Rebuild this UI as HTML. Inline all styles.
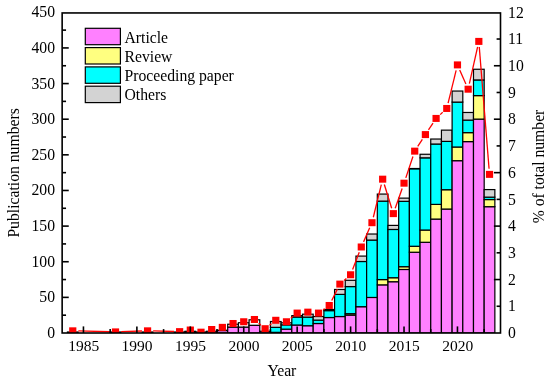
<!DOCTYPE html>
<html><head><meta charset="utf-8"><title>Publication numbers by year</title>
<style>
html,body{margin:0;padding:0;background:#fff;}
svg{display:block;}
text{font-family:"Liberation Serif","Times New Roman",serif;font-size:15.7px;fill:#000;}
.xl{font-size:15.5px;}
</style></head><body>
<svg width="550" height="379" viewBox="0 0 550 379">
<rect width="550" height="379" fill="#fff"/>
<defs><clipPath id="c"><rect x="62.15" y="12.95" width="438.35" height="320.05"/></clipPath></defs>

<g stroke="#000" stroke-width="1.2" clip-path="url(#c)">
<rect x="67.42" y="331.99" width="10.69" height="1.01" fill="#ff80ff"/>
<rect x="110.16" y="331.99" width="10.69" height="1.01" fill="#ff80ff"/>
<rect x="142.22" y="331.99" width="10.69" height="1.01" fill="#ff80ff"/>
<rect x="174.28" y="331.99" width="10.69" height="1.01" fill="#ff80ff"/>
<rect x="184.97" y="331.99" width="10.69" height="1.01" fill="#ff80ff"/>
<rect x="184.97" y="331.28" width="10.69" height="0.71" fill="#00ffff"/>
<rect x="195.65" y="331.99" width="10.69" height="1.01" fill="#ff80ff"/>
<rect x="206.34" y="331.28" width="10.69" height="1.72" fill="#ff80ff"/>
<rect x="217.02" y="330.56" width="10.69" height="2.44" fill="#ff80ff"/>
<rect x="217.02" y="330.28" width="10.69" height="0.28" fill="#d3d3d3"/>
<rect x="227.71" y="327.08" width="10.69" height="5.92" fill="#ff80ff"/>
<rect x="227.71" y="324.23" width="10.69" height="2.85" fill="#ffffff"/>
<rect x="238.40" y="327.08" width="10.69" height="5.92" fill="#ff80ff"/>
<rect x="238.40" y="322.73" width="10.69" height="4.34" fill="#ffffff"/>
<rect x="249.08" y="325.30" width="10.69" height="7.70" fill="#ff80ff"/>
<rect x="249.08" y="319.81" width="10.69" height="5.48" fill="#ffffff"/>
<rect x="259.77" y="331.28" width="10.69" height="1.72" fill="#ff80ff"/>
<rect x="270.45" y="332.34" width="10.69" height="0.66" fill="#ff80ff"/>
<rect x="270.45" y="327.36" width="10.69" height="4.98" fill="#00ffff"/>
<rect x="270.45" y="321.52" width="10.69" height="5.84" fill="#d3d3d3"/>
<rect x="281.14" y="329.14" width="10.69" height="3.86" fill="#ff80ff"/>
<rect x="281.14" y="324.87" width="10.69" height="4.27" fill="#00ffff"/>
<rect x="281.14" y="322.80" width="10.69" height="2.06" fill="#d3d3d3"/>
<rect x="291.82" y="325.01" width="10.69" height="7.99" fill="#ff80ff"/>
<rect x="291.82" y="317.04" width="10.69" height="7.97" fill="#00ffff"/>
<rect x="291.82" y="315.61" width="10.69" height="1.42" fill="#d3d3d3"/>
<rect x="302.51" y="325.72" width="10.69" height="7.28" fill="#ff80ff"/>
<rect x="302.51" y="317.11" width="10.69" height="8.62" fill="#00ffff"/>
<rect x="302.51" y="314.19" width="10.69" height="2.92" fill="#d3d3d3"/>
<rect x="313.20" y="323.52" width="10.69" height="9.48" fill="#ff80ff"/>
<rect x="313.20" y="320.10" width="10.69" height="3.42" fill="#00ffff"/>
<rect x="313.20" y="316.54" width="10.69" height="3.56" fill="#d3d3d3"/>
<rect x="323.88" y="317.53" width="10.69" height="15.47" fill="#ff80ff"/>
<rect x="323.88" y="310.63" width="10.69" height="6.91" fill="#00ffff"/>
<rect x="323.88" y="309.49" width="10.69" height="1.14" fill="#d3d3d3"/>
<rect x="334.57" y="316.54" width="10.69" height="16.46" fill="#ff80ff"/>
<rect x="334.57" y="294.39" width="10.69" height="22.14" fill="#00ffff"/>
<rect x="334.57" y="289.48" width="10.69" height="4.91" fill="#d3d3d3"/>
<rect x="345.25" y="315.11" width="10.69" height="17.89" fill="#ff80ff"/>
<rect x="345.25" y="313.69" width="10.69" height="1.42" fill="#ffff80"/>
<rect x="345.25" y="286.56" width="10.69" height="27.13" fill="#00ffff"/>
<rect x="345.25" y="280.30" width="10.69" height="6.27" fill="#d3d3d3"/>
<rect x="355.94" y="306.71" width="10.69" height="26.29" fill="#ff80ff"/>
<rect x="355.94" y="261.50" width="10.69" height="45.21" fill="#00ffff"/>
<rect x="355.94" y="256.09" width="10.69" height="5.41" fill="#d3d3d3"/>
<rect x="366.63" y="297.46" width="10.69" height="35.54" fill="#ff80ff"/>
<rect x="366.63" y="240.07" width="10.69" height="57.39" fill="#00ffff"/>
<rect x="366.63" y="234.02" width="10.69" height="6.05" fill="#d3d3d3"/>
<rect x="377.31" y="284.85" width="10.69" height="48.15" fill="#ff80ff"/>
<rect x="377.31" y="279.58" width="10.69" height="5.27" fill="#ffff80"/>
<rect x="377.31" y="201.12" width="10.69" height="78.46" fill="#00ffff"/>
<rect x="377.31" y="194.07" width="10.69" height="7.05" fill="#d3d3d3"/>
<rect x="388.00" y="281.72" width="10.69" height="51.28" fill="#ff80ff"/>
<rect x="388.00" y="277.73" width="10.69" height="3.99" fill="#ffff80"/>
<rect x="388.00" y="229.46" width="10.69" height="48.27" fill="#00ffff"/>
<rect x="388.00" y="225.40" width="10.69" height="4.06" fill="#d3d3d3"/>
<rect x="398.68" y="269.47" width="10.69" height="63.53" fill="#ff80ff"/>
<rect x="398.68" y="266.70" width="10.69" height="2.78" fill="#ffff80"/>
<rect x="398.68" y="201.34" width="10.69" height="65.36" fill="#00ffff"/>
<rect x="398.68" y="198.13" width="10.69" height="3.20" fill="#d3d3d3"/>
<rect x="409.37" y="252.24" width="10.69" height="80.76" fill="#ff80ff"/>
<rect x="409.37" y="246.26" width="10.69" height="5.98" fill="#ffff80"/>
<rect x="409.37" y="168.80" width="10.69" height="77.47" fill="#00ffff"/>
<rect x="409.37" y="168.51" width="10.69" height="0.28" fill="#d3d3d3"/>
<rect x="420.06" y="242.28" width="10.69" height="90.72" fill="#ff80ff"/>
<rect x="420.06" y="230.03" width="10.69" height="12.25" fill="#ffff80"/>
<rect x="420.06" y="157.83" width="10.69" height="72.20" fill="#00ffff"/>
<rect x="420.06" y="154.27" width="10.69" height="3.56" fill="#d3d3d3"/>
<rect x="430.74" y="219.06" width="10.69" height="113.94" fill="#ff80ff"/>
<rect x="430.74" y="204.40" width="10.69" height="14.67" fill="#ffff80"/>
<rect x="430.74" y="144.02" width="10.69" height="60.38" fill="#00ffff"/>
<rect x="430.74" y="139.04" width="10.69" height="4.98" fill="#d3d3d3"/>
<rect x="441.43" y="209.03" width="10.69" height="123.97" fill="#ff80ff"/>
<rect x="441.43" y="189.73" width="10.69" height="19.30" fill="#ffff80"/>
<rect x="441.43" y="141.39" width="10.69" height="48.34" fill="#00ffff"/>
<rect x="441.43" y="130.14" width="10.69" height="11.25" fill="#d3d3d3"/>
<rect x="452.11" y="160.68" width="10.69" height="172.32" fill="#ff80ff"/>
<rect x="452.11" y="147.01" width="10.69" height="13.67" fill="#ffff80"/>
<rect x="452.11" y="102.08" width="10.69" height="44.93" fill="#00ffff"/>
<rect x="452.11" y="91.05" width="10.69" height="11.04" fill="#d3d3d3"/>
<rect x="462.80" y="141.60" width="10.69" height="191.40" fill="#ff80ff"/>
<rect x="462.80" y="132.63" width="10.69" height="8.97" fill="#ffff80"/>
<rect x="462.80" y="120.10" width="10.69" height="12.53" fill="#00ffff"/>
<rect x="462.80" y="112.48" width="10.69" height="7.62" fill="#d3d3d3"/>
<rect x="473.49" y="119.10" width="10.69" height="213.90" fill="#ff80ff"/>
<rect x="473.49" y="95.60" width="10.69" height="23.50" fill="#ffff80"/>
<rect x="473.49" y="79.94" width="10.69" height="15.66" fill="#00ffff"/>
<rect x="473.49" y="69.26" width="10.69" height="10.68" fill="#d3d3d3"/>
<rect x="484.17" y="206.68" width="10.69" height="126.32" fill="#ff80ff"/>
<rect x="484.17" y="199.56" width="10.69" height="7.12" fill="#ffff80"/>
<rect x="484.17" y="197.14" width="10.69" height="2.42" fill="#00ffff"/>
<rect x="484.17" y="189.59" width="10.69" height="7.55" fill="#d3d3d3"/>
</g>
<g clip-path="url(#c)"><g stroke="#ff0000" stroke-width="1.3" fill="none">
<line x1="78.36" y1="330.97" x2="109.91" y2="331.76"/>
<line x1="121.10" y1="331.71" x2="141.97" y2="331.02"/>
<line x1="153.16" y1="330.97" x2="174.03" y2="331.49"/>
<line x1="258.67" y1="323.14" x2="260.87" y2="325.04"/>
<line x1="269.51" y1="325.23" x2="271.40" y2="323.75"/>
<line x1="290.83" y1="318.22" x2="292.82" y2="316.61"/>
<line x1="323.10" y1="309.83" x2="324.67" y2="308.71"/>
<line x1="331.73" y1="300.46" x2="337.41" y2="289.11"/>
<line x1="344.13" y1="280.42" x2="346.38" y2="278.45"/>
<line x1="352.61" y1="269.53" x2="359.27" y2="252.22"/>
<line x1="363.54" y1="241.87" x2="369.72" y2="227.82"/>
<line x1="373.31" y1="217.26" x2="381.32" y2="184.61"/>
<line x1="384.32" y1="184.52" x2="391.68" y2="208.27"/>
<line x1="395.20" y1="208.33" x2="402.17" y2="188.46"/>
<line x1="405.80" y1="177.87" x2="412.94" y2="156.45"/>
<line x1="417.75" y1="146.44" x2="422.36" y2="139.29"/>
<line x1="428.49" y1="129.92" x2="433.00" y2="123.10"/>
<line x1="440.18" y1="114.61" x2="442.68" y2="112.29"/>
<line x1="448.11" y1="103.03" x2="456.13" y2="70.34"/>
<line x1="459.71" y1="70.03" x2="465.89" y2="84.07"/>
<line x1="469.37" y1="83.73" x2="477.61" y2="46.87"/>
<line x1="479.28" y1="46.99" x2="489.07" y2="168.79"/>
</g>
<rect x="69.16" y="327.33" width="7.20" height="7.00" fill="#ff0000"/>
<rect x="111.91" y="328.40" width="7.20" height="7.00" fill="#ff0000"/>
<rect x="143.97" y="327.33" width="7.20" height="7.00" fill="#ff0000"/>
<rect x="176.02" y="328.13" width="7.20" height="7.00" fill="#ff0000"/>
<rect x="186.71" y="326.53" width="7.20" height="7.00" fill="#ff0000"/>
<rect x="197.40" y="328.67" width="7.20" height="7.00" fill="#ff0000"/>
<rect x="208.08" y="326.00" width="7.20" height="7.00" fill="#ff0000"/>
<rect x="218.77" y="323.86" width="7.20" height="7.00" fill="#ff0000"/>
<rect x="229.45" y="319.99" width="7.20" height="7.00" fill="#ff0000"/>
<rect x="240.14" y="318.25" width="7.20" height="7.00" fill="#ff0000"/>
<rect x="250.83" y="315.98" width="7.20" height="7.00" fill="#ff0000"/>
<rect x="261.51" y="325.19" width="7.20" height="7.00" fill="#ff0000"/>
<rect x="272.20" y="316.78" width="7.20" height="7.00" fill="#ff0000"/>
<rect x="282.88" y="318.25" width="7.20" height="7.00" fill="#ff0000"/>
<rect x="293.57" y="309.58" width="7.20" height="7.00" fill="#ff0000"/>
<rect x="304.26" y="308.64" width="7.20" height="7.00" fill="#ff0000"/>
<rect x="314.94" y="309.58" width="7.20" height="7.00" fill="#ff0000"/>
<rect x="325.63" y="301.97" width="7.20" height="7.00" fill="#ff0000"/>
<rect x="336.31" y="280.61" width="7.20" height="7.00" fill="#ff0000"/>
<rect x="347.00" y="271.26" width="7.20" height="7.00" fill="#ff0000"/>
<rect x="357.69" y="243.49" width="7.20" height="7.00" fill="#ff0000"/>
<rect x="368.37" y="219.20" width="7.20" height="7.00" fill="#ff0000"/>
<rect x="379.06" y="175.67" width="7.20" height="7.00" fill="#ff0000"/>
<rect x="389.74" y="210.12" width="7.20" height="7.00" fill="#ff0000"/>
<rect x="400.43" y="179.68" width="7.20" height="7.00" fill="#ff0000"/>
<rect x="411.12" y="147.64" width="7.20" height="7.00" fill="#ff0000"/>
<rect x="421.80" y="131.09" width="7.20" height="7.00" fill="#ff0000"/>
<rect x="432.49" y="114.93" width="7.20" height="7.00" fill="#ff0000"/>
<rect x="443.17" y="104.97" width="7.20" height="7.00" fill="#ff0000"/>
<rect x="453.86" y="61.40" width="7.20" height="7.00" fill="#ff0000"/>
<rect x="464.55" y="85.70" width="7.20" height="7.00" fill="#ff0000"/>
<rect x="475.23" y="37.90" width="7.20" height="7.00" fill="#ff0000"/>
<rect x="485.92" y="170.87" width="7.20" height="7.00" fill="#ff0000"/>
</g>
<g stroke="#000" stroke-width="1.60" fill="none" stroke-linecap="butt">
<rect x="62.15" y="12.95" width="438.35" height="320.05"/>
<line x1="62.15" y1="315.18" x2="66.05" y2="315.18"/>
<line x1="62.15" y1="297.37" x2="68.75" y2="297.37"/>
<line x1="62.15" y1="279.55" x2="66.05" y2="279.55"/>
<line x1="62.15" y1="261.73" x2="68.75" y2="261.73"/>
<line x1="62.15" y1="243.92" x2="66.05" y2="243.92"/>
<line x1="62.15" y1="226.10" x2="68.75" y2="226.10"/>
<line x1="62.15" y1="208.28" x2="66.05" y2="208.28"/>
<line x1="62.15" y1="190.47" x2="68.75" y2="190.47"/>
<line x1="62.15" y1="172.65" x2="66.05" y2="172.65"/>
<line x1="62.15" y1="154.83" x2="68.75" y2="154.83"/>
<line x1="62.15" y1="137.02" x2="66.05" y2="137.02"/>
<line x1="62.15" y1="119.20" x2="68.75" y2="119.20"/>
<line x1="62.15" y1="101.38" x2="66.05" y2="101.38"/>
<line x1="62.15" y1="83.57" x2="68.75" y2="83.57"/>
<line x1="62.15" y1="65.75" x2="66.05" y2="65.75"/>
<line x1="62.15" y1="47.93" x2="68.75" y2="47.93"/>
<line x1="62.15" y1="30.12" x2="66.05" y2="30.12"/>
<line x1="500.50" y1="306.27" x2="496.60" y2="306.27"/>
<line x1="500.50" y1="279.55" x2="493.90" y2="279.55"/>
<line x1="500.50" y1="252.82" x2="496.60" y2="252.82"/>
<line x1="500.50" y1="226.10" x2="493.90" y2="226.10"/>
<line x1="500.50" y1="199.38" x2="496.60" y2="199.38"/>
<line x1="500.50" y1="172.65" x2="493.90" y2="172.65"/>
<line x1="500.50" y1="145.92" x2="496.60" y2="145.92"/>
<line x1="500.50" y1="119.20" x2="493.90" y2="119.20"/>
<line x1="500.50" y1="92.48" x2="496.60" y2="92.48"/>
<line x1="500.50" y1="65.75" x2="493.90" y2="65.75"/>
<line x1="500.50" y1="39.03" x2="496.60" y2="39.03"/>
<line x1="83.45" y1="333.00" x2="83.45" y2="326.40"/>
<line x1="110.17" y1="333.00" x2="110.17" y2="329.10"/>
<line x1="136.88" y1="333.00" x2="136.88" y2="326.40"/>
<line x1="163.59" y1="333.00" x2="163.59" y2="329.10"/>
<line x1="190.31" y1="333.00" x2="190.31" y2="326.40"/>
<line x1="217.02" y1="333.00" x2="217.02" y2="329.10"/>
<line x1="243.74" y1="333.00" x2="243.74" y2="326.40"/>
<line x1="270.45" y1="333.00" x2="270.45" y2="329.10"/>
<line x1="297.17" y1="333.00" x2="297.17" y2="326.40"/>
<line x1="323.88" y1="333.00" x2="323.88" y2="329.10"/>
<line x1="350.60" y1="333.00" x2="350.60" y2="326.40"/>
<line x1="377.31" y1="333.00" x2="377.31" y2="329.10"/>
<line x1="404.03" y1="333.00" x2="404.03" y2="326.40"/>
<line x1="430.75" y1="333.00" x2="430.75" y2="329.10"/>
<line x1="457.46" y1="333.00" x2="457.46" y2="326.40"/>
<line x1="484.18" y1="333.00" x2="484.18" y2="329.10"/>
</g>
<text x="55.0" y="338.00" text-anchor="end">0</text>
<text x="55.0" y="302.37" text-anchor="end">50</text>
<text x="55.0" y="266.73" text-anchor="end">100</text>
<text x="55.0" y="231.10" text-anchor="end">150</text>
<text x="55.0" y="195.47" text-anchor="end">200</text>
<text x="55.0" y="159.83" text-anchor="end">250</text>
<text x="55.0" y="124.20" text-anchor="end">300</text>
<text x="55.0" y="88.57" text-anchor="end">350</text>
<text x="55.0" y="52.93" text-anchor="end">400</text>
<text x="55.0" y="17.30" text-anchor="end">450</text>
<text x="508.1" y="338.20">0</text>
<text x="508.1" y="311.47">1</text>
<text x="508.1" y="284.75">2</text>
<text x="508.1" y="258.02">3</text>
<text x="508.1" y="231.30">4</text>
<text x="508.1" y="204.57">5</text>
<text x="508.1" y="177.85">6</text>
<text x="508.1" y="151.12">7</text>
<text x="508.1" y="124.40">8</text>
<text x="508.1" y="97.68">9</text>
<text x="508.1" y="70.95">10</text>
<text x="508.1" y="44.23">11</text>
<text x="508.1" y="17.50">12</text>
<text class="xl" x="83.65" y="351.2" text-anchor="middle">1985</text>
<text class="xl" x="137.08" y="351.2" text-anchor="middle">1990</text>
<text class="xl" x="190.51" y="351.2" text-anchor="middle">1995</text>
<text class="xl" x="243.94" y="351.2" text-anchor="middle">2000</text>
<text class="xl" x="297.37" y="351.2" text-anchor="middle">2005</text>
<text class="xl" x="350.80" y="351.2" text-anchor="middle">2010</text>
<text class="xl" x="404.23" y="351.2" text-anchor="middle">2015</text>
<text class="xl" x="457.66" y="351.2" text-anchor="middle">2020</text>
<text x="281.9" y="376.25" text-anchor="middle">Year</text>
<text transform="translate(18.7,172.9) rotate(-90)" text-anchor="middle">Publication numbers</text>
<text transform="translate(543.5,166.5) rotate(-90)" text-anchor="middle">% of total number</text>
<rect x="85.3" y="28.30" width="35.1" height="16.4" fill="#ff80ff" stroke="#000" stroke-width="1.2"/>
<text x="124.5" y="42.50">Article</text>
<rect x="85.3" y="47.60" width="35.1" height="16.4" fill="#ffff80" stroke="#000" stroke-width="1.2"/>
<text x="124.5" y="61.70">Review</text>
<rect x="85.3" y="66.90" width="35.1" height="16.4" fill="#00ffff" stroke="#000" stroke-width="1.2"/>
<text x="124.5" y="80.90">Proceeding paper</text>
<rect x="85.3" y="86.20" width="35.1" height="16.4" fill="#d3d3d3" stroke="#000" stroke-width="1.2"/>
<text x="124.5" y="100.10">Others</text>
</svg></body></html>
